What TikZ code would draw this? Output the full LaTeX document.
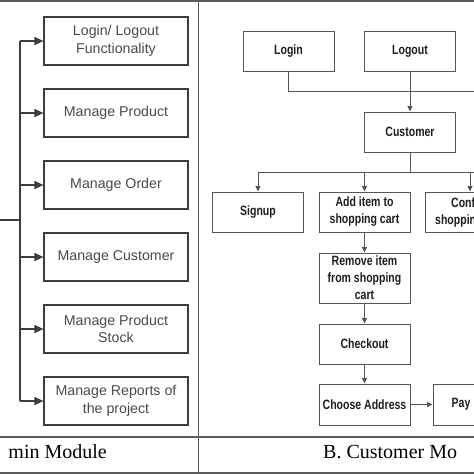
\documentclass[tikz,border=0pt]{standalone}
\usepackage{fontspec}
\setmainfont{Liberation Serif}
\newfontfamily\lefttxt{Liberation Sans}
\newfontfamily\righttxt[FakeStretch=0.78]{Liberation Sans}
\usetikzlibrary{arrows.meta}
\definecolor{framec}{HTML}{5A5A5A}
\definecolor{boxc}{HTML}{3C3C3C}
\definecolor{rboxc}{HTML}{555555}
\definecolor{ltxt}{HTML}{4A4A4A}
\definecolor{rtxt}{HTML}{1E1E1E}
\tikzset{
  leftbox/.style={draw=boxc, line width=1.2pt, minimum width=144pt, minimum height=48pt, inner sep=0pt, align=center, text=ltxt, font=\lefttxt\fontsize{14.2}{17.5}\selectfont},
  rightbox/.style={draw=rboxc, line width=0.9pt, minimum width=91pt, minimum height=40pt, inner sep=0pt, align=center, text=rtxt, font=\righttxt\bfseries\fontsize{13.5}{17}\selectfont},
  rtext/.style={inner sep=0pt, text=rtxt, font=\righttxt\bfseries\fontsize{13.5}{17}\selectfont},
  larr/.style={draw=boxc, line width=1.2pt, -{Triangle[length=9pt,width=8pt]}},
  lline/.style={draw=boxc, line width=1.2pt},
  rarr/.style={draw=rboxc, line width=0.9pt, -{Triangle[length=5.5pt,width=5pt]}},
  rline/.style={draw=rboxc, line width=0.9pt},
  caption/.style={inner sep=0pt, text=black, font=\fontsize{20}{24}\selectfont}
}
\begin{document}
\begin{tikzpicture}[x=1pt,y=-1pt]
\useasboundingbox (0,0) rectangle (474,474);
\clip (0,0) rectangle (474,474);
\fill[white] (0,0) rectangle (474,474);
% frame
\draw[framec, line width=2.6pt] (0,0.8) -- (474,0.8);
\draw[framec, line width=2pt] (0,437) -- (474,437);
\draw[framec, line width=2.2pt] (0,473.5) -- (474,473.5);
\draw[framec, line width=1.1pt] (198.5,0) -- (198.5,474);
% left column
\node[leftbox] (b1) at (116,41) {Login/ Logout\\Functionality};
\node[leftbox] (b2) at (116,113) {Manage Product};
\node[leftbox] (b3) at (116,185) {Manage Order};
\node[leftbox] (b4) at (116,257) {Manage Customer};
\node[leftbox] (b5) at (116,329) {Manage Product\\Stock};
\node[leftbox] (b6) at (116,401) {Manage Reports of\\the project};
\coordinate (lin) at (-5,220);
\coordinate (tk) at (20,220);
\draw[lline] (lin) -- (tk);
\draw[lline] (tk |- b1.west) -- (tk |- b6.west);
\foreach \b in {b1,b2,b3,b4,b5,b6}{
  \draw[larr] (tk |- \b.west) -- (\b.west);
}
\node[caption, anchor=base east] (capA) at (107,458) {min Module};
% right column
\node[rightbox] (login) at (288.5,51.5) {Login};
\node[rightbox] (logout) at (410,51.5) {Logout};
\node[rightbox] (cust) at (410,132) {Customer};
\node[rightbox] (signup) at (258,212) {Signup};
\node[rightbox] (add) at (364.5,212) {Add item to\\shopping cart};
\node[rightbox, minimum width=90pt] (conf) at (470,212) {};
\node[rtext, anchor=base west] (conft1) at (451,207) {Conf};
\node[rtext, anchor=base west] (conft2) at (435,224) {shoppin};
\node[rightbox, minimum height=50pt] (remove) at (364.5,278) {Remove item\\from shopping\\cart};
\node[rightbox] (checkout) at (364.5,344) {Checkout};
\node[rightbox, minimum height=41pt] (choose) at (364.5,404.5) {Choose Address};
\node[rightbox, minimum width=56pt, minimum height=41pt] (pay) at (461,404.5) {Pay};
\coordinate (rend1) at (480,91);
\draw[rline] (login.south) |- (rend1);
\draw[rarr] (logout.south) -- (cust.north);
\coordinate (bus) at (0,172);
\coordinate (rend2) at (480,172);
\draw[rline] (cust.south) -- (cust.south |- bus);
\draw[rline] (signup.north |- bus) -- (rend2);
\draw[rarr] (signup.north |- bus) -- (signup.north);
\draw[rarr] (add.north |- bus) -- (add.north);
\draw[rarr] (conf.north |- bus) -- (conf.north);
\draw[rarr] (add) -- (remove);
\draw[rarr] (remove) -- (checkout);
\draw[rarr] (checkout) -- (choose);
\draw[rarr] (choose) -- (pay);
\node[caption, anchor=base west] (capB) at (323,458) {B. Customer Mo};
\end{tikzpicture}
\end{document}
